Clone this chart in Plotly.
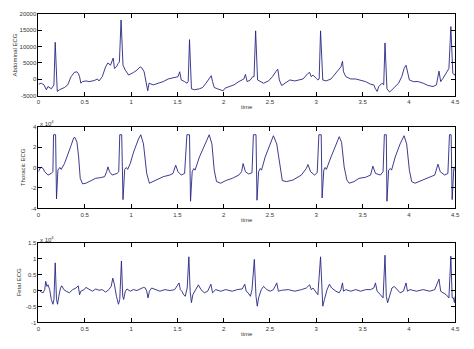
import plotly.graph_objects as go

# ---------------- data ----------------
abd_t = [0.0, 0.032, 0.060, 0.085, 0.103, 0.139, 0.156, 0.167, 0.181, 0.203, 0.227, 0.281, 0.316, 0.352,
         0.387, 0.416, 0.430, 0.444, 0.458, 0.476, 0.512, 0.547, 0.601, 0.636, 0.654, 0.689, 0.725, 0.750,
         0.778, 0.796, 0.807, 0.821, 0.842, 0.860, 0.874, 0.892, 0.913, 0.938, 0.974, 1.027, 1.063, 1.098,
         1.116, 1.141, 1.158, 1.169, 1.180, 1.194, 1.240, 1.294, 1.347, 1.400, 1.453, 1.507, 1.525, 1.542,
         1.578, 1.603, 1.617, 1.631, 1.652, 1.685, 1.738, 1.773, 1.809, 1.844, 1.866, 1.880, 1.898, 1.933,
         1.969, 1.994, 2.015, 2.057, 2.111, 2.164, 2.218, 2.235, 2.253, 2.288, 2.313, 2.328, 2.345, 2.366,
         2.395, 2.431, 2.484, 2.527, 2.562, 2.584, 2.601, 2.626, 2.662, 2.715, 2.768, 2.822, 2.857, 2.910,
         2.928, 2.946, 2.964, 2.999, 3.017, 3.031, 3.046, 3.070, 3.106, 3.159, 3.212, 3.248, 3.266, 3.283,
         3.294, 3.319, 3.372, 3.426, 3.479, 3.532, 3.586, 3.621, 3.639, 3.657, 3.675, 3.710, 3.728, 3.742,
         3.763, 3.792, 3.817, 3.852, 3.888, 3.923, 3.948, 3.969, 3.984, 4.005, 4.048, 4.101, 4.154, 4.208,
         4.261, 4.297, 4.325, 4.343, 4.368, 4.403, 4.432, 4.453, 4.474, 4.492, 4.5]
abd_v = [-1500, -1200, -1700, -3200, -2200, -2900, -2200, -1700, 11300, -3700, -3200, -2500, -1700, 800,
         2100, 2300, 1800, 800, -1200, -700, -500, -700, -400, 100, -500, 800, 3800, 5000,
         4300, 5800, 6500, 3300, 3800, 4800, 5300, 18100, 4300, 2800, 1300, 2100, 2800, 3800,
         3500, 2300, 100, -1700, -3500, -1200, -1700, -1200, -700, 100, 500, 800, 2300, -200,
         -700, -1200, -700, 12100, -2900, -3200, -2900, -2500, -1200, 300, 1100, -700, -2500, -2900,
         -3200, -3500, -2700, -2200, -1700, -700, 100, 1500, -700, -200, 800, 800, 14800, -200,
         -700, -1200, -500, 800, 2300, 3100, -200, -1900, -1200, -200, -500, -200, 100, 1800,
         2100, 800, 1300, 300, -200, 100, 14800, -200, -500, 100, 1800, 3300, 3800, 5500,
         2300, 800, 100, 100, -300, -700, -1500, -1700, -2900, -3700, -2200, -1200, -1700, 11100,
         -2900, -3900, -3200, -2200, -1200, 800, 3300, 4300, 2300, -200, -700, -700, -1200, -1900,
         -2200, -1700, 2500, -700, 300, 1800, 3300, 16100, 1800, 1300, 1800]

tho_t = [0.0, 0.014, 0.032, 0.050, 0.068, 0.103, 0.139, 0.156, 0.163, 0.185, 0.195, 0.210, 0.231, 0.245,
         0.281, 0.316, 0.352, 0.380, 0.394, 0.416, 0.434, 0.451, 0.476, 0.512, 0.565, 0.618, 0.672, 0.714,
         0.736, 0.750, 0.768, 0.796, 0.849, 0.867, 0.878, 0.899, 0.913, 0.931, 0.949, 0.963, 0.991, 1.027,
         1.080, 1.105, 1.134, 1.169, 1.198, 1.276, 1.347, 1.418, 1.453, 1.482, 1.507, 1.542, 1.578, 1.603,
         1.631, 1.642, 1.660, 1.677, 1.691, 1.738, 1.791, 1.827, 1.844, 1.873, 1.898, 1.923, 1.969, 2.022,
         2.093, 2.164, 2.193, 2.210, 2.235, 2.271, 2.306, 2.321, 2.349, 2.360, 2.377, 2.395, 2.409, 2.448,
         2.502, 2.537, 2.573, 2.608, 2.633, 2.679, 2.750, 2.839, 2.892, 2.910, 2.939, 2.981, 3.010, 3.028,
         3.053, 3.063, 3.081, 3.095, 3.109, 3.159, 3.212, 3.248, 3.273, 3.301, 3.330, 3.355, 3.408, 3.461,
         3.532, 3.586, 3.611, 3.639, 3.692, 3.721, 3.735, 3.756, 3.763, 3.781, 3.799, 3.813, 3.852, 3.905,
         3.948, 3.976, 4.005, 4.030, 4.066, 4.137, 4.208, 4.279, 4.314, 4.339, 4.386, 4.421, 4.438, 4.456,
         4.467, 4.485, 4.5]
tho_v = [-4200, -1000, 0, -1000, -4200, -7400, -5800, -4200, 32000, 32000, -30700, -2600, 0, -1900,
         3800, 11800, 21400, 28800, 29400, 24600, 10200, -10600, -16000, -15400, -12800, -10600, -9900, -9000,
         -4200, 600, -4200, -7400, -5800, -4200, 32000, 32000, -31400, -1900, 0, -1900, 3800, 15000,
         27800, 32000, 23000, -5800, -15400, -12200, -9000, -7400, -5800, 2200, -4200, -7400, -5800, 32000,
         32000, -33000, -4200, -1000, -2600, 10200, 21400, 29400, 32000, 23000, -2600, -13800, -15400, -12800,
         -10600, -7400, -4200, 3800, -4200, -6400, -5100, 32000, 32000, -32000, -4200, -1000, -2600, 10200,
         23000, 31000, 23000, 600, -12800, -13800, -12200, -7400, -1000, 2900, -4200, -7400, -5100, 32000,
         32000, -29800, -2600, 0, -1900, 10200, 23000, 30100, 24600, 600, -12200, -15400, -13800, -10600,
         -9600, -7400, 1300, -5800, -7400, -4200, 32000, 32000, -33000, -2600, -1000, -2600, 10200, 23000,
         31000, 23000, -2600, -13800, -15400, -12800, -10600, -7400, 3200, -4200, -7400, -5800, 32000, 32000,
         -31400, -1000, -1900]

fet_t = [0.0, 0.014, 0.032, 0.050, 0.068, 0.078, 0.092, 0.103, 0.121, 0.139, 0.156, 0.167, 0.181, 0.195,
         0.206, 0.220, 0.238, 0.252, 0.274, 0.299, 0.334, 0.370, 0.405, 0.430, 0.444, 0.458, 0.494, 0.512,
         0.547, 0.583, 0.618, 0.654, 0.689, 0.725, 0.760, 0.785, 0.803, 0.821, 0.842, 0.864, 0.878, 0.896,
         0.910, 0.920, 0.938, 0.956, 0.991, 1.027, 1.063, 1.098, 1.134, 1.155, 1.169, 1.183, 1.198, 1.222,
         1.258, 1.276, 1.311, 1.365, 1.418, 1.471, 1.518, 1.532, 1.549, 1.567, 1.585, 1.606, 1.624, 1.638,
         1.652, 1.667, 1.702, 1.727, 1.755, 1.791, 1.827, 1.862, 1.880, 1.915, 1.969, 2.022, 2.093, 2.146,
         2.200, 2.228, 2.243, 2.264, 2.289, 2.306, 2.331, 2.349, 2.363, 2.377, 2.406, 2.431, 2.466, 2.502,
         2.537, 2.573, 2.591, 2.626, 2.697, 2.768, 2.839, 2.892, 2.928, 2.946, 2.964, 2.999, 3.017, 3.046,
         3.060, 3.070, 3.088, 3.116, 3.142, 3.166, 3.212, 3.248, 3.266, 3.283, 3.294, 3.319, 3.372, 3.426,
         3.479, 3.532, 3.586, 3.621, 3.639, 3.657, 3.692, 3.721, 3.742, 3.756, 3.770, 3.792, 3.817, 3.842,
         3.870, 3.905, 3.941, 3.969, 3.984, 4.012, 4.083, 4.154, 4.225, 4.279, 4.325, 4.343, 4.368, 4.403,
         4.432, 4.453, 4.467, 4.481, 4.492, 4.5]
fet_v = [300, -200, -500, -700, 300, 2900, 1300, 1800, 300, -2800, -4300, -2800, 8700, -2800,
         -4300, -1800, 800, 1500, 300, -200, -700, 300, 800, 1500, -1300, -200, 300, 1000,
         300, -200, 500, 100, 300, -500, 300, 1300, 3900, 1800, -1800, -4300, -2800, 9300,
         -1800, -2800, -200, 500, -200, 300, 0, 500, 1000, 800, -200, -2300, -200, 800,
         300, 300, -200, 300, 0, 300, 2400, 300, -200, -1300, -1800, 800, 10600, -200,
         -3800, -1300, 800, 1800, 300, -700, -200, 2000, -700, 300, -200, 300, -200, 300,
         500, 2000, -200, -700, -1800, 300, 9800, -1800, -4900, -2300, 300, 1300, 300, -200,
         300, 2400, -200, 100, 300, -200, 300, 800, 1800, 300, 800, -700, -1300, 10600,
         -2800, -4900, -2800, 300, 2000, 800, -200, -700, 300, 2400, -200, 300, -200, 300,
         -200, 300, 300, 800, 2400, -200, -1300, -2300, 11100, -1800, -3800, -1300, 800, 1300,
         300, -700, -200, 2400, -200, 300, -200, 300, -200, 300, 3600, -200, -700, -1300,
         -2300, 10800, -2300, -2300, -3800, -1800]

x_ticks = [0, 0.5, 1, 1.5, 2, 2.5, 3, 3.5, 4, 4.5]
x_ticktext = ["0", "0.5", "1", "1.5", "2", "2.5", "3", "3.5", "4", "4.5"]
abd_ticks = [-5000, 0, 5000, 10000, 15000, 20000]
abd_ticktext = ["-5000", "0", "5000", "10000", "15000", "20000"]
tho_ticks = [-40000, -20000, 0, 20000, 40000]
tho_ticktext = ["-4", "-2", "0", "2", "4"]
fet_ticks = [-10000, -5000, 0, 5000, 10000, 15000]
fet_ticktext = ["-1", "-0.5", "0", "0.5", "1", "1.5"]
titles = ["Abdominal ECG", "Thoracic ECG", "Fetal ECG"]

# ---------------- figure ----------------
W, H = 474, 349
LINE = "#262684"
FONT = dict(family="Liberation Sans, Arial, sans-serif", size=6, color="#333333")

def py(px):
    return 1 - px / H

xdom = [37 / W, 460 / W]
panels = [
    (abd_t, abd_v, [-5000, 20000], abd_ticks, abd_ticktext, (11, 94.3)),
    (tho_t, tho_v, [-40000, 40000], tho_ticks, tho_ticktext, (125.7, 209)),
    (fet_t, fet_v, [-10000, 15000], fet_ticks, fet_ticktext, (244, 325)),
]

fig = go.Figure()
annotations = []
layout = dict(
    width=W, height=H, margin=dict(l=0, r=0, t=0, b=0),
    paper_bgcolor="white", plot_bgcolor="white", showlegend=False, font=FONT,
)
title_x = [13, 22, 17]
for i, (t, v, yr, yt, ytt, (top, bot)) in enumerate(panels):
    n = "" if i == 0 else str(i + 1)
    fig.add_trace(go.Scatter(x=t, y=v, mode="lines", xaxis="x" + n, yaxis="y" + n,
                             line=dict(color=LINE, width=0.9), hoverinfo="skip"))
    axcommon = dict(showgrid=False, zeroline=False, showline=True, mirror="ticks",
                    linecolor="#000000", linewidth=1, ticks="inside", ticklen=4,
                    tickcolor="#000000", tickwidth=1, tickfont=FONT)
    layout["xaxis" + n] = dict(domain=xdom, range=[0, 4.5], anchor="y" + n,
                               tickvals=x_ticks, ticktext=x_ticktext, **axcommon)
    layout["yaxis" + n] = dict(domain=[py(bot), py(top)], range=yr, anchor="x" + n,
                               tickvals=yt, ticktext=ytt, **axcommon)
    annotations.append(dict(text="time", x=248.5 / W, y=py(bot + 12), xref="paper", yref="paper",
                            showarrow=False, font=FONT, xanchor="center", yanchor="middle"))
    annotations.append(dict(text=titles[i], x=title_x[i] / W, y=py((top + bot) / 2), xref="paper",
                            yref="paper", showarrow=False, font=FONT, textangle=-90,
                            xanchor="center", yanchor="middle"))
    if i > 0:
        annotations.append(dict(text="x 10<sup>4</sup>", x=37 / W, y=py(top - 4), xref="paper",
                                yref="paper", showarrow=False, font=FONT,
                                xanchor="left", yanchor="middle"))
layout["annotations"] = annotations
fig.update_layout(**layout)
fig.write_html("out.html")
